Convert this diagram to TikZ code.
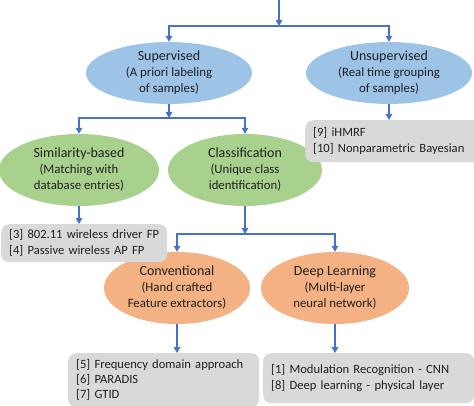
\documentclass[tikz,border=0pt]{standalone}
\usepackage{fontspec}
\setmainfont{Carlito}
\usetikzlibrary{shapes.geometric,arrows.meta}
\definecolor{arrowblue}{HTML}{4472C4}
\definecolor{elblue}{HTML}{9DC3E6}
\definecolor{elgreen}{HTML}{A9D18E}
\definecolor{elorange}{HTML}{F4B183}
\definecolor{boxgray}{HTML}{D9D9D9}
\definecolor{txt}{HTML}{202020}
\tikzset{
  arr/.style={draw=arrowblue, line width=1.1pt, -{Triangle[length=6pt,width=6.5pt]}},
  oval/.style={ellipse, draw=none, inner sep=0pt, align=center, text=txt,
    font=\fontsize{12.8}{16}\selectfont},
  refbox/.style={rectangle, rounded corners=8pt, fill=boxgray, anchor=north west,
    align=left, text=txt, inner xsep=8pt, inner ysep=0pt,
    font=\fontsize{12.6}{16}\selectfont},
}
\newcommand{\ttl}[1]{{\fontsize{14}{16}\selectfont #1}}
\begin{document}
\begin{tikzpicture}[x=1pt,y=-1pt]
\useasboundingbox (0,0) rectangle (474,406);
% ellipses
\node[oval, fill=elblue, minimum width=166pt, minimum height=58pt] (sup) at (169,73)
  {\ttl{Supervised}\\(A priori labeling\\of samples)};
\node[oval, fill=elblue, minimum width=166pt, minimum height=58pt] (uns) at (389,73)
  {\ttl{Unsupervised}\\(Real time grouping\\of samples)};
\node[oval, fill=elgreen, minimum width=160pt, minimum height=72pt] (sim) at (79,170)
  {\ttl{Similarity-based}\\(Matching with\\database entries)};
\node[oval, fill=elgreen, minimum width=154pt, minimum height=72pt] (cls) at (245,170)
  {\ttl{Classification}\\(Unique class\\identification)};
\node[oval, fill=elorange, minimum width=146pt, minimum height=72pt] (conv) at (177,288)
  {\ttl{Conventional}\\(Hand crafted\\Feature extractors)};
\node[oval, fill=elorange, minimum width=148pt, minimum height=72pt] (deep) at (335,288)
  {\ttl{Deep Learning}\\(Multi-layer\\neural network)};
% boxes
\node[refbox, minimum width=169pt, minimum height=42pt, text width=160pt] (b9) at (305,120)
  {[9] iHMRF\\{[10]} Nonparametric Bayesian};
\node[refbox, minimum width=160pt, minimum height=38pt, text width=150pt] (b3) at (1,224)
  {[3] 802.11 wireless driver FP\\{[4]} Passive wireless AP FP};
\node[refbox, minimum width=187pt, minimum height=54pt, text width=175pt,
  font=\fontsize{12.6}{15}\selectfont] (b5) at (68,353)
  {[5] Frequency domain approach\\{[6]} PARADIS\\{[7]} GTID};
\node[refbox, minimum width=207pt, minimum height=50pt, text width=195pt] (b1) at (263,353)
  {[1] Modulation Recognition - CNN\\{[8]} Deep learning - physical layer};
% connectors
\coordinate (top) at (279,0);
\coordinate (j0) at (279,26);
\coordinate (j1) at (169,118);
\coordinate (j2) at (245,234);
\draw[arr] (top) -- (j0);
\draw[arr] (j0) -| (sup.north);
\draw[arr] (j0) -| (uns.north);
\draw[arr] (sup.south) -- (j1);
\draw[arr] (j1) -| (sim.north);
\draw[arr] (j1) -| (cls.north);
\draw[arr] (uns.south) -- (uns.south |- b9.north);
\draw[arr] (sim.south) -- (sim.south |- b3.north);
\draw[arr] (cls.south) -- (j2);
\draw[arr] (j2) -| (conv.north);
\draw[arr] (j2) -| (deep.north);
\draw[arr] (conv.south) -- (conv.south |- b5.north);
\draw[arr] (deep.south) -- (deep.south |- b1.north);
\end{tikzpicture}
\end{document}
